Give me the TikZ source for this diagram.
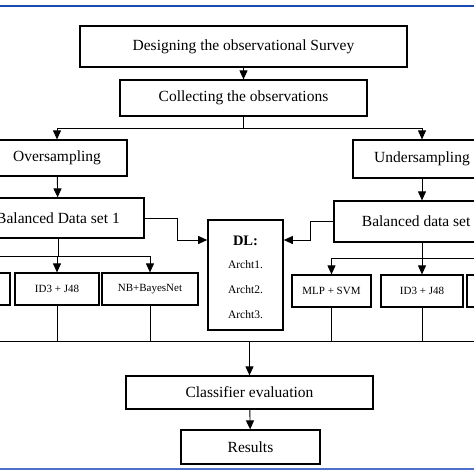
\documentclass[tikz,border=0pt]{standalone}
\usepackage{fontspec}
\setmainfont{Liberation Serif}
\usepackage{xcolor}
\usepackage{tikz}
\usetikzlibrary{arrows.meta, positioning}
\definecolor{rulebluetop}{RGB}{28,72,178}
\definecolor{ruleblueend}{RGB}{78,112,200}

\begin{document}
\begin{tikzpicture}[x=1pt, y=-1pt, % 以像素为单位, y 向下
    box/.style={draw, line width=1.2pt, rectangle, inner sep=0pt,
        font=\fontsize{15.5}{18}\selectfont},
    algbox/.style={draw, line width=1.2pt, rectangle, inner sep=0pt,
        font=\fontsize{11}{13}\selectfont},
    arr/.style={line width=0.9pt, -{Triangle[length=9pt,width=8pt]}},
    ln/.style={line width=0.9pt}]
            \useasboundingbox (0,0) rectangle (474,474);
            \clip (0,0) rectangle (474,474);
            \draw[rulebluetop, line width=2.4pt] (0,6) -- (474,6);
            \draw[ruleblueend, line width=1.6pt] (0,469) -- (474,469);
            % 上部流程
            \node[box, line width=1.6pt, minimum width=327pt, minimum height=41pt] (design) at (243.5,46.5) {Designing the observational Survey};
            \node[box, minimum width=247pt, minimum height=36pt] (collect) at (243.5,98) {Collecting the observations};
            \node[box, minimum width=140pt, minimum height=36pt] (over) at (57,158) {Oversampling};
            \node[box, minimum width=138pt, minimum height=38pt] (under) at (422,159) {Undersampling};
            \node[box, minimum width=172pt, minimum height=40pt] (bal1) at (58,218) {Balanced Data set 1};
            \node[box, minimum width=176pt, minimum height=41pt] (bal2) at (422,221.5) {Balanced data set 2};
            \coordinate (split) at (243.5,128);
            \draw[arr] (design) -- (collect);
            \draw[ln] (collect) -- (split);
            \draw[arr] (split) -| (over.north);
            \draw[arr] (split) -| (under.north);
            \draw[arr] (over) -- (bal1);
            \draw[arr] (under) -- (bal2);
            % DL
            \node[draw, line width=1.6pt, minimum width=75pt, minimum height=110pt, inner sep=0pt] (dl) at (245.5,275) {};
            \node[font=\fontsize{14.5}{16}\selectfont\bfseries] (dlname) at (245.5,241) {DL:};
            \node[font=\fontsize{11.5}{13}\selectfont] (arch1) at (245.5,265) {Archt1.};
            \node[font=\fontsize{11.5}{13}\selectfont] (arch2) at (245.5,290) {Archt2.};
            \node[font=\fontsize{11.5}{13}\selectfont] (arch3) at (245.5,315) {Archt3.};
            \draw[arr] (bal1.east) -- (177,218) |- ([yshift=35pt]dl.west);
            \draw[arr] (bal2.west) -- (310,221.5) |- ([yshift=35pt]dl.east);
            % 分类器
            \node[algbox, minimum width=84pt, minimum height=32pt] (lmlp) at (-32,289) {};
            \node[algbox, minimum width=84pt, minimum height=32pt] (lid3) at (57,289) {ID3 + J48};
            \node[algbox, minimum width=96pt, minimum height=32pt] (lnb) at (150,289) {NB+BayesNet};
            \node[algbox, minimum width=79pt, minimum height=32pt] (rmlp) at (331.5,291) {MLP + SVM};
            \node[algbox, minimum width=82pt, minimum height=32pt] (rid3) at (422,291) {ID3 + J48};
            \node[algbox, minimum width=96pt, minimum height=32pt] (rnb) at (515,291) {};
            \coordinate (lsplit) at (58,256);
            \coordinate (rsplit) at (422,258);
            \draw[ln] (bal1) -- (lsplit);
            \draw[ln] (bal2) -- (rsplit);
            \foreach \n in {lmlp, lid3, lnb} \draw[arr] (lsplit) -| (\n.north);
            \foreach \n in {rmlp, rid3, rnb} \draw[arr] (rsplit) -| (\n.north);
            % 汇合
            \coordinate (merge) at (249.5,341);
            \draw[ln] (lmlp.south |- merge) -- (rnb.south |- merge);
            \foreach \n in {lmlp, lid3, lnb, rmlp, rid3, rnb} \draw[ln] (\n.south) -- (\n.south |- merge);
            \node[box, minimum width=247pt, minimum height=33pt] (eval) at (249.5,392.5) {Classifier evaluation};
            \node[box, minimum width=139pt, minimum height=34pt] (results) at (250.5,447) {Results};
            \draw[arr] (merge) -- (eval);
            \draw[arr] (eval) -- (results);
            \end{tikzpicture}
\end{document}
